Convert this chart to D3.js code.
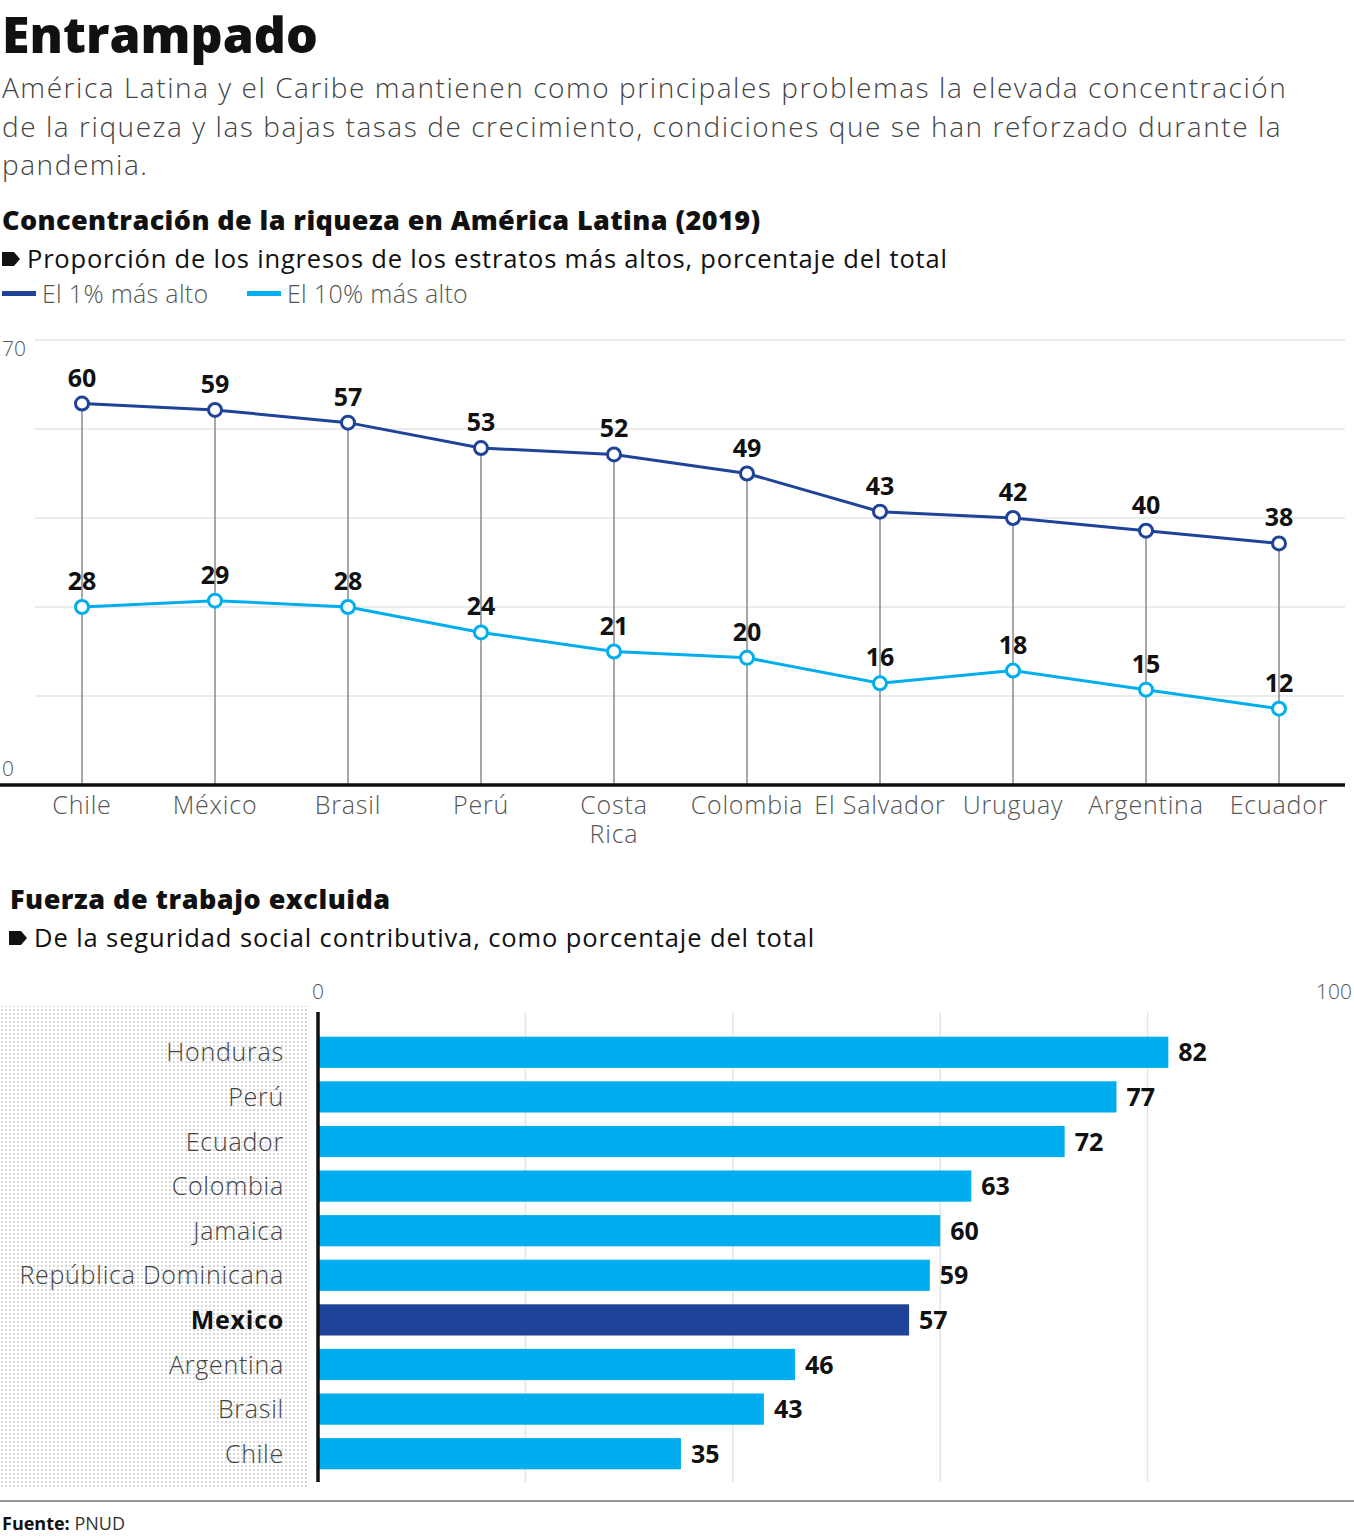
<!DOCTYPE html>
<html>
<head>
<meta charset="utf-8">
<script src="https://cdn.jsdelivr.net/npm/d3@7"></script>
<style>
  body { margin: 0; background: #fff; }
  svg { display: block; font-family: "Open Sans", Lato, sans-serif; }
</style>
</head>
<body>
<script>
// datos: concentración de la riqueza (2019)
const paises = ["Chile", "México", "Brasil", "Perú", "Costa Rica", "Colombia", "El Salvador", "Uruguay", "Argentina", "Ecuador"];
const top1 = [60, 59, 57, 53, 52, 49, 43, 42, 40, 38];
const top10 = [28, 29, 28, 24, 21, 20, 16, 18, 15, 12];
const ticksLinea = [0, 14, 28, 42, 56, 70];

// datos: fuerza de trabajo excluida
const paisesBarras = ["Honduras", "Perú", "Ecuador", "Colombia", "Jamaica", "República Dominicana", "Mexico", "Argentina", "Brasil", "Chile"];
const excluida = [82, 77, 72, 63, 60, 59, 57, 46, 43, 35];
const ticksBarras = [0, 20, 40, 60, 80, 100];

const azulOscuro = "#1f4399";
const azulClaro = "#00aeef";

const svg = d3.select("body").append("svg")
    .attr("width", 1354)
    .attr("height", 1536);

// patrón de puntos para el fondo de etiquetas
const pat = svg.append("defs").append("pattern")
    .attr("id", "puntos")
    .attr("width", 4).attr("height", 4)
    .attr("patternUnits", "userSpaceOnUse");
pat.append("rect").attr("x", 1).attr("y", 1).attr("width", 2).attr("height", 2).style("fill", "#d8d8d8");

// --- encabezado
svg.append("text").attr("x", 2).attr("y", 53)
    .style("font-size", "50px").style("font-weight", 800).style("fill", "#111")
    .text("Entrampado");

const intro = [
  "América Latina y el Caribe mantienen como principales problemas la elevada concentración",
  "de la riqueza y las bajas tasas de crecimiento, condiciones que se han reforzado durante la",
  "pandemia."
];
svg.selectAll(".intro").data(intro).enter().append("text")
    .attr("x", 2).attr("y", (d, i) => 98 + i * 38.5)
    .style("font-size", "28px").style("fill", "#444").style("font-weight", 300)
    .style("letter-spacing", "1.55px")
    .text(d => d);

const bullet = (x, y) => `M${x},${y} h12 l6,7 l-6,7 h-12 z`;

// --- gráfico de líneas
svg.append("text").attr("x", 2).attr("y", 230)
    .style("font-size", "27px").style("font-weight", 800).style("fill", "#111")
    .style("letter-spacing", "0.4px")
    .text("Concentración de la riqueza en América Latina (2019)");
svg.append("path").attr("d", bullet(2, 252)).style("fill", "#111");
svg.append("text").attr("x", 27).attr("y", 268)
    .style("font-size", "25.5px").style("fill", "#111")
    .style("letter-spacing", "0.8px")
    .text("Proporción de los ingresos de los estratos más altos, porcentaje del total");

const leyenda = [
  {name: "El 1% más alto", color: azulOscuro, x: 2},
  {name: "El 10% más alto", color: azulClaro, x: 247}
];
const ley = svg.selectAll(".ley").data(leyenda).enter().append("g")
    .attr("transform", d => `translate(${d.x},0)`);
ley.append("rect").attr("x", 0).attr("y", 291).attr("width", 34).attr("height", 5).style("fill", d => d.color);
ley.append("text").attr("x", 40).attr("y", 303)
    .style("font-size", "25px").style("fill", "#555").style("font-weight", 300)
    .style("letter-spacing", "0.3px")
    .text(d => d.name);

const x = d3.scalePoint().domain(paises).range([82, 1279]);
const y = d3.scaleLinear().domain([0, 70]).range([785, 340]);

svg.selectAll(".grid").data(ticksLinea.filter(d => d > 0)).enter().append("line")
    .attr("x1", 35).attr("x2", 1345)
    .attr("y1", d => y(d)).attr("y2", d => y(d))
    .style("stroke", "#e4e4e4").style("stroke-width", 1.5);

svg.selectAll(".ytick").data([0, 70]).enter().append("text")
    .attr("x", 2).attr("y", d => d === 0 ? 776 : 356)
    .style("font-size", "21px").style("fill", "#555").style("font-weight", 300)
    .text(d => d);

// líneas verticales
svg.selectAll(".drop").data(paises).enter().append("line")
    .attr("x1", d => x(d)).attr("x2", d => x(d))
    .attr("y1", (d, i) => y(top1[i])).attr("y2", y(0))
    .style("stroke", "#8a8a8a").style("stroke-width", 1.5);

svg.append("line").attr("x1", 0).attr("x2", 1345).attr("y1", y(0)).attr("y2", y(0))
    .style("stroke", "#111").style("stroke-width", 3.5);

const series = [
  {vals: top1, color: azulOscuro},
  {vals: top10, color: azulClaro}
];
const linea = d3.line().x((d, i) => x(paises[i])).y(d => y(d));
series.forEach(s => {
  svg.append("path").datum(s.vals).attr("d", linea)
      .style("fill", "none").style("stroke", s.color).style("stroke-width", 3);
  svg.selectAll(null).data(s.vals).enter().append("circle")
      .attr("cx", (d, i) => x(paises[i])).attr("cy", d => y(d)).attr("r", 6.5)
      .style("fill", "#fff").style("stroke", s.color).style("stroke-width", 3);
  svg.selectAll(null).data(s.vals).enter().append("text")
      .attr("x", (d, i) => x(paises[i])).attr("y", d => y(d) - 17)
      .attr("text-anchor", "middle")
      .style("font-size", "25px").style("font-weight", 700).style("fill", "#111")
      .text(d => d);
});

// etiquetas de país (Costa Rica en dos líneas)
const lineasEtq = [];
paises.forEach(p => {
  const partes = p === "Costa Rica" ? ["Costa", "Rica"] : [p];
  partes.forEach((t, i) => lineasEtq.push({pais: p, texto: t, fila: i}));
});
svg.selectAll(".cat").data(lineasEtq).enter().append("text")
    .attr("x", d => x(d.pais)).attr("y", d => 814 + d.fila * 29)
    .attr("text-anchor", "middle")
    .style("font-size", "25px").style("fill", "#555").style("font-weight", 300)
    .style("letter-spacing", "0.8px")
    .text(d => d.texto);

// --- gráfico de barras
svg.append("text").attr("x", 10).attr("y", 909)
    .style("font-size", "27px").style("font-weight", 800).style("fill", "#111")
    .style("letter-spacing", "0.5px")
    .text("Fuerza de trabajo excluida");
svg.append("path").attr("d", bullet(9, 931)).style("fill", "#111");
svg.append("text").attr("x", 34).attr("y", 947)
    .style("font-size", "25.5px").style("fill", "#111")
    .style("letter-spacing", "0.9px")
    .text("De la seguridad social contributiva, como porcentaje del total");

const xb = d3.scaleLinear().domain([0, 100]).range([318, 1355]);
const yb = d3.scaleBand().domain(paisesBarras).range([1030, 1476]).paddingInner(0.3).paddingOuter(0.15);

svg.append("rect").attr("x", 0).attr("y", 1006).attr("width", 307).attr("height", 481)
    .style("fill", "url(#puntos)");

svg.selectAll(".gridb").data(ticksBarras.filter(d => d > 0 && d < 100)).enter().append("line")
    .attr("x1", d => xb(d)).attr("x2", d => xb(d))
    .attr("y1", 1012).attr("y2", 1482)
    .style("stroke", "#e4e4e4").style("stroke-width", 1.5);

svg.selectAll(".xtick").data([0, 100]).enter().append("text")
    .attr("x", d => d === 0 ? xb(0) : 1352).attr("y", 999)
    .attr("text-anchor", d => d === 0 ? "middle" : "end")
    .style("font-size", "21px").style("fill", "#555").style("font-weight", 300)
    .text(d => d);

svg.selectAll(".barra").data(excluida).enter().append("rect")
    .attr("x", xb(0)).attr("y", (d, i) => yb(paisesBarras[i]))
    .attr("width", d => xb(d) - xb(0)).attr("height", yb.bandwidth())
    .style("fill", (d, i) => paisesBarras[i] === "Mexico" ? azulOscuro : azulClaro);

svg.append("line").attr("x1", xb(0)).attr("x2", xb(0)).attr("y1", 1012).attr("y2", 1482)
    .style("stroke", "#111").style("stroke-width", 3.5);

svg.selectAll(".pais").data(paisesBarras).enter().append("text")
    .attr("x", 284).attr("y", d => yb(d) + yb.bandwidth() / 2 + 9)
    .attr("text-anchor", "end")
    .style("font-size", "25px")
    .style("font-weight", d => d === "Mexico" ? 700 : 300)
    .style("fill", d => d === "Mexico" ? "#111" : "#444")
    .style("letter-spacing", "0.75px")
    .text(d => d);

svg.selectAll(".valor").data(excluida).enter().append("text")
    .attr("x", d => xb(d) + 10).attr("y", (d, i) => yb(paisesBarras[i]) + yb.bandwidth() / 2 + 9)
    .style("font-size", "25px").style("font-weight", 700).style("fill", "#111")
    .text(d => d);

// --- pie
svg.append("line").attr("x1", 0).attr("x2", 1354).attr("y1", 1501).attr("y2", 1501)
    .style("stroke", "#777").style("stroke-width", 1.5);
const fuente = svg.append("text").attr("x", 2).attr("y", 1530)
    .style("font-size", "18px").style("fill", "#333");
fuente.append("tspan").style("font-weight", 700).style("fill", "#111").text("Fuente: ");
fuente.append("tspan").text("PNUD");
</script>
</body>
</html>
